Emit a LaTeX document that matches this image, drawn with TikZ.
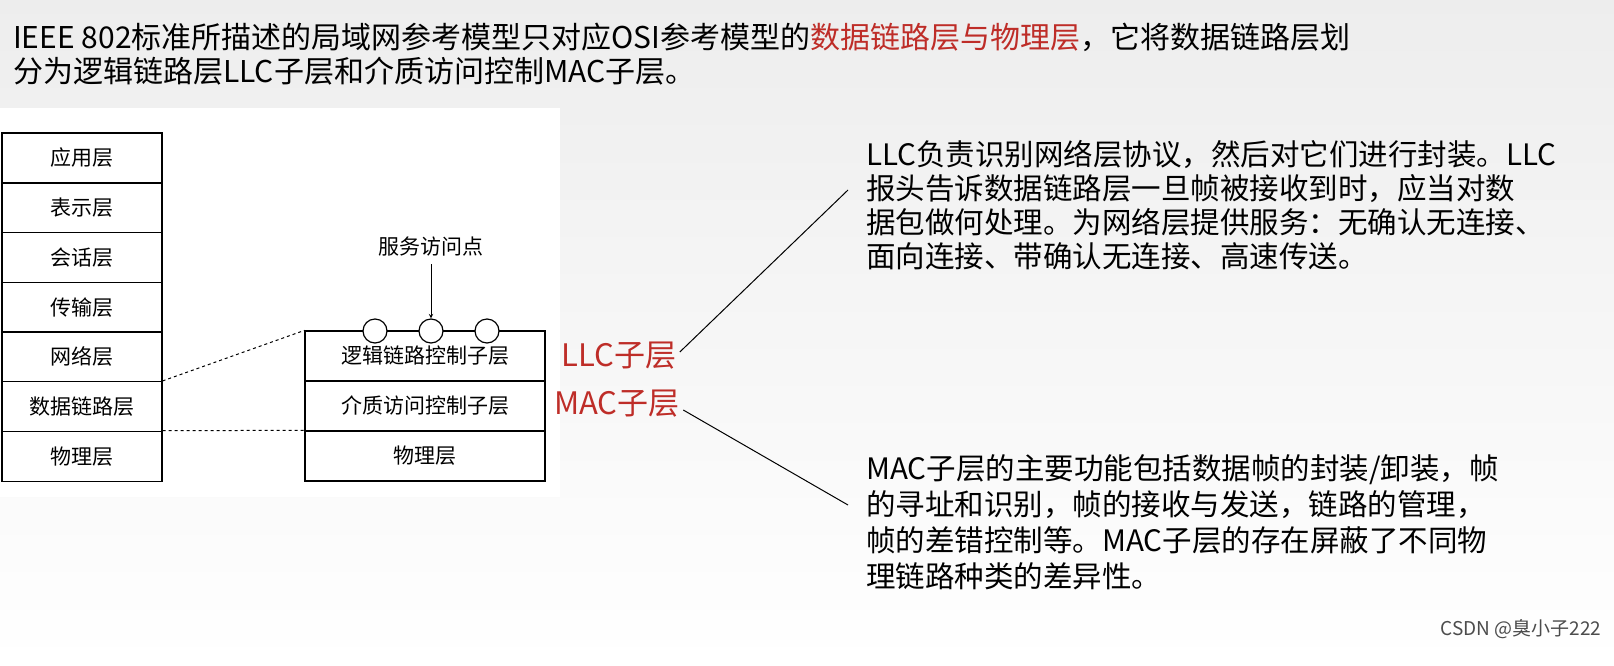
\documentclass[tikz,border=0pt]{standalone}
\usepackage{fontspec}
\setmainfont{Noto Sans CJK SC}
\begin{document}
\begin{tikzpicture}[x=1pt,y=-1pt,
  cell/.style={draw,line width=1.2pt,minimum width=160pt,minimum height=50pt,inner sep=0pt,font=\fontsize{21}{21}\selectfont},
  rcell/.style={draw,line width=1.2pt,minimum width=240pt,minimum height=50pt,inner sep=0pt,font=\fontsize{21}{21}\selectfont},
  sap/.style={circle,draw,line width=1.2pt,fill=white,minimum size=24pt,inner sep=0pt},
  red/.style={text=myred},
  para/.style={anchor=north west,align=left,font=\fontsize{29.5}{34}\selectfont,inner sep=0pt}]
\definecolor{myred}{RGB}{190,45,40}
\useasboundingbox (0,0) rectangle (1614,665);
\shade[top color=gray!14,bottom color=white] (0,0) rectangle (1614,665);
\fill[white] (0,108) rectangle (560,497);
\node[anchor=west,inner sep=0pt,font=\fontsize{30}{30}\selectfont] (h1) at (13,37) {IEEE 802标准所描述的局域网参考模型只对应OSI参考模型的\textcolor{myred}{数据链路层与物理层}，它将数据链路层划};
\node[anchor=west,inner sep=0pt,font=\fontsize{30}{30}\selectfont] (h2) at (13,71) {分为逻辑链路层LLC子层和介质访问控制MAC子层。};
\foreach \t [count=\i] in {应用层,表示层,会话层,传输层,网络层,数据链路层,物理层}
  \node[cell] (l\i) at (82,{158+49.7*(\i-1)}) {\t};
\node[rcell] (r1) at (425,356) {逻辑链路控制子层};
\node[rcell] (r2) at (425,406) {介质访问控制子层};
\node[rcell] (r3) at (425,456) {物理层};
\node[sap] (c1) at (375,331) {};
\node[sap] (c2) at (431,331) {};
\node[sap] (c3) at (487,331) {};
\node[font=\fontsize{21}{21}\selectfont] (sp) at (431,247) {服务访问点};
\draw[-stealth,line width=1pt] (sp.south) ++(0,4) -- (c2.north);
\draw[dashed,line width=1pt] (l6.north east) -- (r1.north west);
\draw[dashed,line width=1pt] (l7.north east) -- (r3.north west);
\node[red,font=\fontsize{31}{31}\selectfont] (llc) at (619,356) {LLC子层};
\node[red,font=\fontsize{31}{31}\selectfont] (mac) at (617,404) {MAC子层};
\node[para] (t1) at (866,140) {LLC负责识别网络层协议，然后对它们进行封装。LLC\\报头告诉数据链路层一旦帧被接收到时，应当对数\\据包做何处理。为网络层提供服务：无确认无连接、\\面向连接、带确认无连接、高速传送。};
\node[para,font=\fontsize{29.5}{36}\selectfont] (t2) at (866,454) {MAC子层的主要功能包括数据帧的封装/卸装，帧\\的寻址和识别，帧的接收与发送，链路的管理，\\帧的差错控制等。MAC子层的存在屏蔽了不同物\\理链路种类的差异性。};
\coordinate (e1) at (848,190);
\coordinate (e2) at (848,505);
\draw[line width=1pt] (llc.east) ++(0,-4) -- (e1);
\draw[line width=1pt] (mac.east) ++(0,6) -- (e2);
\node[anchor=south east,text=gray!60!black,font=\fontsize{19}{19}\selectfont] (wm) at (1605,642) {CSDN @臭小子222};
\end{tikzpicture}
\end{document}
